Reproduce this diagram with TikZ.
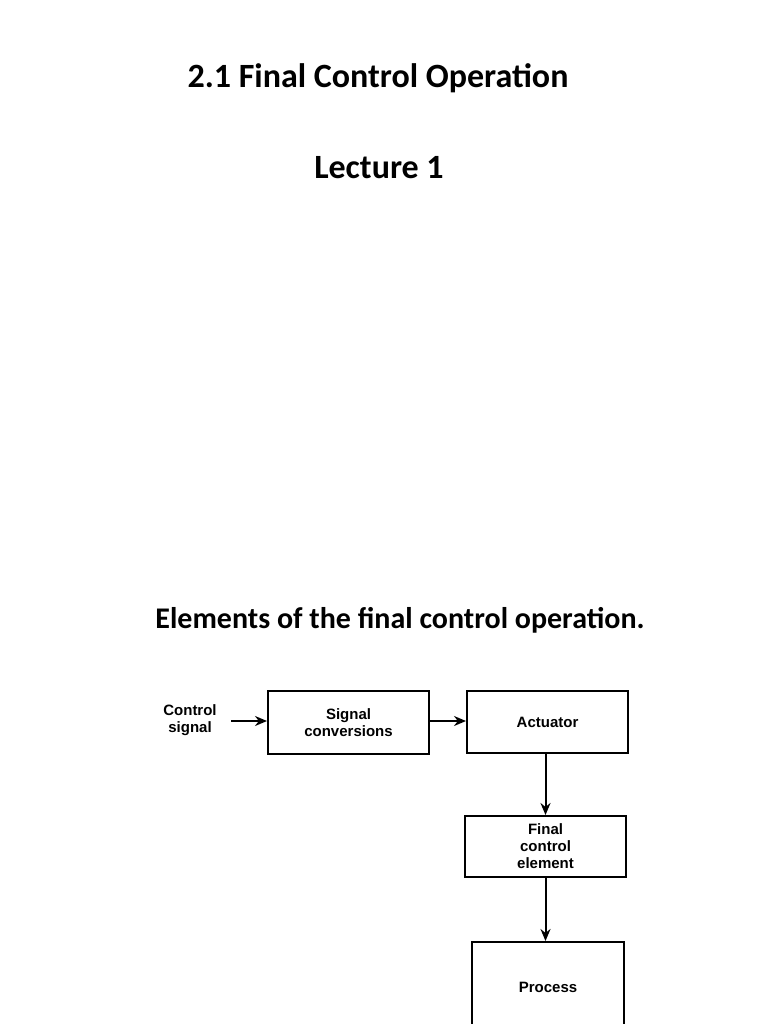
\documentclass[tikz,border=0pt]{standalone}
\usepackage{fontspec}
\setmainfont{Carlito}
\newfontfamily\diagfont{Liberation Sans}
\usetikzlibrary{arrows.meta}
\begin{document}
\begin{tikzpicture}[x=1pt,y=-1pt,
  dtxt/.style={font=\diagfont\bfseries\fontsize{15}{17}\selectfont,align=center},
  blk/.style={draw,line width=2pt,inner sep=0pt,dtxt},
  conn/.style={line width=2pt,-{Stealth[length=12pt,width=10pt]}},
  ttl/.style={font=\bfseries\fontsize{34}{40}\selectfont}]
\useasboundingbox (0,0) rectangle (768,1024);
\fill[white] (0,0) rectangle (768,1024);
\node[ttl] (t1) at (378,78) {2.1 Final Control Operation};
\node[ttl] (t2) at (379,168) {Lecture 1};
\node[font=\bfseries\fontsize{30}{34}\selectfont] (t3) at (400,620) {Elements of the final control operation.};
\node[dtxt] (cs) at (190,720) {Control\\signal};
\node[blk,minimum width=161pt,minimum height=63pt] (sc) at (348.5,722.5) {Signal\\conversions};
\node[blk,minimum width=161pt,minimum height=62pt] (ac) at (547.5,722) {Actuator};
\node[blk,minimum width=161pt,minimum height=61pt] (fc) at (545.5,846.5) {Final\\control\\element};
\begin{scope}
\clip (0,0) rectangle (768,1024);
\node[blk,minimum width=152pt,minimum height=100pt,anchor=north] (pr) at (548,941) {};
\end{scope}
\node[dtxt] (prt) at (548,987) {Process};
\coordinate (csr) at (231,721);
\draw[conn] (csr) -- (sc.west |- csr);
\draw[conn] (sc.east |- csr) -- (ac.west |- csr);
\draw[conn] (ac.south -| fc.north) -- (fc.north);
\draw[conn] (fc.south) -- (fc.south |- pr.north);
\end{tikzpicture}
\end{document}
